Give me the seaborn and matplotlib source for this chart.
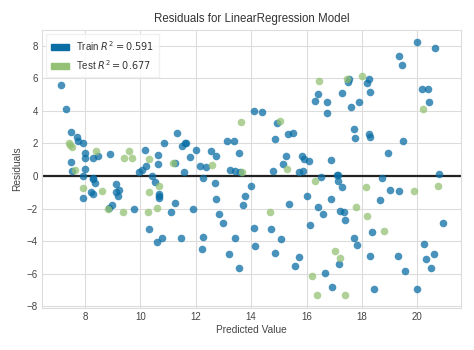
import numpy as np
import pandas as pd
import matplotlib
matplotlib.use("Agg")
import matplotlib.pyplot as plt
import matplotlib.patches as mpatches
import seaborn as sns

# residuals
train_pred = [7.13, 7.31, 7.51, 7.72, 7.75, 7.92, 8.01, 7.99, 8.29, 8.46, 8.90, 10.18, 7.49, 7.53,
              8.02, 9.94, 10.06, 10.22, 7.94, 8.30, 10.41, 10.65, 10.65, 10.85, 11.27, 11.31, 11.51,
              11.61, 11.65, 11.58, 11.79, 12.00, 12.15, 12.36, 12.25, 12.54, 12.75, 13.14, 13.38,
              13.23, 13.42, 13.60, 13.57, 14.10, 14.39, 14.93, 14.85, 15.33, 15.52, 15.27, 15.14,
              15.83, 15.90, 16.10, 16.87, 14.78, 15.71, 15.87, 17.10, 17.15, 16.41, 16.31, 16.75,
              16.72, 17.28, 17.61, 17.90, 17.70, 17.76, 17.53, 17.48, 18.17, 18.26, 18.29, 18.26,
              18.28, 18.95, 19.49, 19.35, 19.46, 20.00, 20.64, 20.16, 20.37, 20.43, 20.78, 18.71,
              16.52,
              8.29, 8.35, 7.92, 8.23, 8.29, 9.12, 9.12, 9.22, 9.19, 8.87, 8.97, 9.79, 10.30, 10.53,
              10.66, 10.66, 10.66, 11.26, 11.10, 11.89, 10.78, 10.60, 11.48, 12.70, 12.73, 12.83,
              12.98, 12.26, 12.24, 13.21, 13.42, 13.55, 14.00, 13.77, 13.69, 14.09, 14.13, 16.01,
              15.35, 16.89, 16.40, 16.59, 17.22, 17.34, 17.37, 17.12, 17.28, 14.73, 15.08, 16.11,
              14.87, 15.71, 15.59, 17.70, 17.82, 17.18, 16.68, 16.92, 19.00, 19.34, 18.66, 18.36,
              20.91, 20.22, 20.61, 20.32, 20.50, 18.30, 19.29, 19.56, 18.42, 19.99]
train_resid = [5.57, 4.09, 2.72, 2.42, 2.15, 2.05, 1.40, 1.08, 1.08, 1.20, 1.32, 1.60, 0.87, 0.32,
               0.45, 0.26, 0.38, 0.60, 0.00, -0.12, -0.02, 1.30, 0.73, 2.05, 0.77, 2.62, 1.85,
               2.01, 2.05, 0.22, 1.14, 1.60, 0.63, 0.53, -0.15, 1.54, 1.20, 2.15, 2.15,
               0.38, 0.29, 0.22, 1.40, 3.98, 3.95, 3.23, 2.26, 2.56, 2.66, 1.20, 0.73,
               1.20, 1.04, 0.90, 0.98, 0.29, 0.26, 0.29, 0.08, 0.03, 5.04, 4.63, 4.55,
               3.88, 5.10, 4.23, 4.55, 2.91, 2.30, 5.98, 5.77, 5.71, 5.98, 5.14, 2.56,
               2.40, 1.38, 2.12, 7.38, 6.79, 8.21, 7.88, 5.35, 5.35, 4.55, 0.12, -0.12,
               -0.04,
               -0.18, -0.43, -1.36, -0.96, -1.10, -0.49, -0.96, -0.85, -1.20, -1.97, -1.81, -2.01, -3.27, -0.35,
               -1.10, -1.24, -1.36, -1.67, -2.18, -2.05, -3.80, -4.04, -3.78, -0.45, -1.44, -2.36,
               -2.89, -3.74, -4.45, -4.76, -3.78, -5.63, -0.63, -1.20, -1.77, -3.19, -4.29, -1.24,
               -1.71, -1.44, -1.91, -2.36, -2.12, -2.21, -2.68, -0.28, -0.69, -3.23, -3.88, -3.03,
               -4.70, -4.96, -5.53, -3.78, -4.25, -5.37, -5.94, -6.83, -0.83, -0.90, -1.50, -3.43,
               -2.87, -4.19, -4.80, -5.12, -5.67, -4.92, -4.92, -5.84, -6.95, -6.95]

test_pred = [7.41, 7.47, 7.53, 8.40, 9.43, 9.70, 9.61, 10.32, 7.65, 11.19, 12.57, 13.66, 13.63,
             15.05, 15.29, 16.44, 17.47, 18.00, 20.19, 7.92, 8.61, 8.84, 9.37, 10.27, 10.32,
             10.66, 10.60, 16.31, 17.78, 14.69, 17.04, 17.19, 16.19, 16.38, 17.38, 18.16,
             19.87, 20.74, 18.18, 18.80]
test_resid = [2.05, 1.89, 1.75, 1.52, 1.12, 1.12, 1.52, 1.04, 0.38, 0.77, 0.69, 0.22, 3.34,
              3.37, 0.43, 5.81, 5.98, 6.16, 4.13, -0.75, -0.90, -2.05, -2.21, -2.21, -0.96,
              -0.59, -1.95, -0.28, -1.91, -2.18, -4.61, -5.06, -6.14, -7.30, -7.30, -0.69,
              -0.93, -0.63, -2.46, -3.37]

train_r2 = 0.591
test_r2 = 0.677
train_color = "#0a6ea5"
test_color = "#94c173"

train = pd.DataFrame({"pred": train_pred, "resid": train_resid})
test = pd.DataFrame({"pred": test_pred, "resid": test_resid})

sns.set_style("whitegrid", {"grid.color": "#dcdcdc", "axes.edgecolor": "#dcdcdc"})
plt.rcParams["font.family"] = ["Liberation Sans", "DejaVu Sans"]

fig, ax = plt.subplots(figsize=(4.74, 3.5), dpi=100)
fig.subplots_adjust(left=0.089, right=0.973, top=0.914, bottom=0.12)

sns.scatterplot(data=train, x="pred", y="resid", color=train_color, alpha=0.75,
                s=30, linewidth=0, ax=ax, zorder=3)
sns.scatterplot(data=test, x="pred", y="resid", color=test_color, alpha=0.75,
                s=30, linewidth=0, ax=ax, zorder=3)
ax.axhline(0, color="#222222", lw=1.6, zorder=2)

ax.set_xlim(6.46, 21.58)
ax.set_ylim(-8.1, 8.95)
ax.set_xticks([8, 10, 12, 14, 16, 18, 20])
ax.set_yticks([-8, -6, -4, -2, 0, 2, 4, 6, 8])
ax.tick_params(labelsize=7, colors="#444444", length=0, pad=3)
ax.set_title("Residuals for LinearRegression Model", fontsize=8.3, color="#333333", pad=6)
ax.set_xlabel("Predicted Value", fontsize=7.3, color="#444444", labelpad=2)
ax.set_ylabel("Residuals", fontsize=7.3, color="#444444", labelpad=3)

handles = [mpatches.Patch(color=train_color, label=r"Train $R^2 = %.3f$" % train_r2),
           mpatches.Patch(color=test_color, label=r"Test $R^2 = %.3f$" % test_r2)]
leg = ax.legend(handles=handles, loc="upper left", fontsize=7, frameon=True,
                handlelength=1.9, handleheight=0.6, labelspacing=0.55,
                handletextpad=0.7, borderpad=0.5, borderaxespad=0.4,
                fancybox=False, framealpha=0.85)
leg.get_frame().set_edgecolor("#eeeeee")
for t in leg.get_texts():
    t.set_color("#333333")

fig.savefig("out.png", dpi=100)
